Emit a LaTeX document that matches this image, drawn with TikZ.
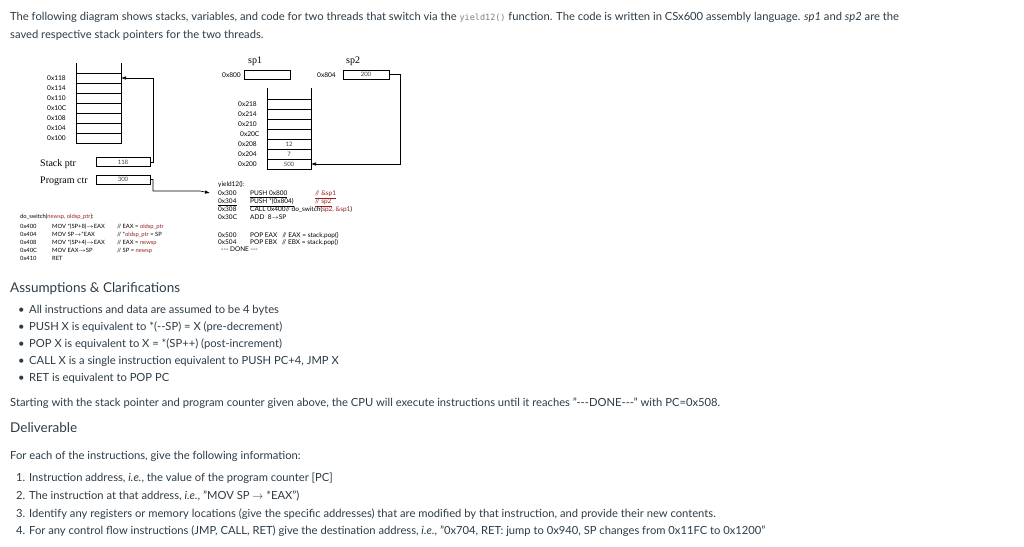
\documentclass[tikz,border=0pt]{standalone}
\usepackage{fontspec}
\setmainfont{Lato}
\newfontfamily\serifx{Liberation Serif}
\newfontfamily\monox{DejaVu Sans Mono}
\usetikzlibrary{arrows.meta}
\definecolor{txt}{RGB}{45,59,69}
\definecolor{dred}{RGB}{150,30,30}
\begin{document}
\begin{tikzpicture}[x=1pt,y=-1pt,
  tx/.style={anchor=base west,inner sep=0pt,text=txt,font=\fontsize{11.2}{13}\selectfont},
  sm/.style={anchor=base west,inner sep=0pt,font=\fontsize{5.8}{7}\selectfont},
  ym/.style={anchor=base west,inner sep=0pt,font=\fontsize{6.5}{7}\selectfont},
  lab/.style={anchor=base west,inner sep=0pt,font=\fontsize{6.6}{8}\selectfont},
  big/.style={anchor=base west,inner sep=0pt,font=\serifx\fontsize{10}{12}\selectfont},
  val/.style={draw,minimum width=54pt,minimum height=9pt,inner sep=0pt,font=\fontsize{6}{7}\selectfont\color{darkgray}},
  ln/.style={line width=0.6pt},
  arr/.style={ln,-{Latex[length=5pt,width=3.5pt]}}]
\useasboundingbox (0,0) rectangle (1024,546);
\node[tx] (p1) at (10,20) {The following diagram shows stacks, variables, and code for two threads that switch via the {\monox\color{gray}\fontsize{8.5}{10}\selectfont yield12()} function. The code is written in CSx600 assembly language. \textit{sp1} and \textit{sp2} are the};
\node[tx] (p2) at (10,38) {saved respective stack pointers for the two threads.};
% left stack
\draw[ln] (76,63) -- (76,143) -- (121,143) -- (121,63);
\foreach \i/\l in {0/0x118,1/0x114,2/0x110,3/0x10C,4/0x108,5/0x104,6/0x100}{
  \draw[ln] (76,{73+10*\i}) -- (121,{73+10*\i});
  \node[lab] at (47,{80.5+10*\i}) {\l};}
\coordinate (lt) at (121,78);
\node[big] (sptxt) at (40,166) {Stack ptr};
\node[big] (pctxt) at (40,183) {Program ctr};
\node[val] (sp) at (123,162) {118};
\node[val] (pc) at (123,179.5) {300};
\draw[arr] (sp.east) -| (153,78) -- (lt);
\coordinate (yy) at (210,193);
\draw[arr] (pc.east) -- (153,179.5) |- (200,191) -- (yy);
% sp1 sp2
\node[big] at (248,63) {sp1};
\node[big] at (346,63) {sp2};
\node[lab] at (222,77.5) {0x800};
\node[lab] at (317,77.5) {0x804};
\node[val,minimum width=46pt] (s1) at (267,74.5) {};
\node[val,minimum width=46pt] (s2) at (366,74.5) {200};
% middle stack
\draw[ln] (267,88) -- (267,169) -- (311,169) -- (311,88);
\foreach \i/\l/\v in {0/0x218/,1/0x214/,2/0x210/,3/0x20C/,4/0x208/12,5/0x204/7,6/0x200/500}{
  \draw[ln] (267,{99+10*\i}) -- (311,{99+10*\i});
  \node[lab] at ({\i==3 ? 240 : 238},{106.5+10*\i}) {\l};
  \node[font=\fontsize{6}{7}\selectfont\color{darkgray},inner sep=0pt] at (289,{104+10*\i}) {\v};}
\coordinate (mt) at (311,164);
\draw[arr] (s2.east) -- (400,74.5) |- (mt);
% yield code
\node[ym] (y0) at (218,186) {yield12():};
\node[ym] at (218,195.5) {0x300}; \node[ym] at (250,195.5) {\underline{PUSH 0x800}}; \node[ym] at (315,195.5) {\color{dred}\underline{// \&sp1}};
\node[ym] at (218,203.5) {\underline{0x304}}; \node[ym] at (250,203.5) {\underline{PUSH *(0x804)}}; \node[ym] at (315,203.5) {\color{dred}\underline{// sp2}};
\node[ym] at (218,211.5) {0x308}; \node[ym] at (250,211.5) {CALL 0x400// do\_switch({\color{dred}sp2, \&sp1})};
\node[ym] at (218,219.5) {0x30C}; \node[ym] at (250,219.5) {ADD \ 8$\to$SP};
\node[ym] at (218,237.5) {0x500}; \node[ym] at (250,237.5) {POP EAX \ \ // EAX = stack.pop()};
\node[ym] at (218,244.5) {0x504}; \node[ym] at (250,244.5) {POP EBX \ \ // EBX = stack.pop()};
\node[ym] at (221,251.5) {-{}-{}- DONE -{}-{}-};
% do_switch
\node[sm] at (20,218) {do\_switch({\color{dred}newsp, oldsp\_ptr}):};
\node[sm] at (20,228) {0x400}; \node[sm] at (52,228) {MOV *(SP+8)$\to$EAX}; \node[sm] at (117,228) {// EAX = {\color{dred}oldsp\_ptr}};
\node[sm] at (20,236) {0x404}; \node[sm] at (52,236) {MOV SP$\to$*EAX}; \node[sm] at (117,236) {// *{\color{dred}oldsp\_ptr} = SP};
\node[sm] at (20,244) {0x408}; \node[sm] at (52,244) {MOV *(SP+4)$\to$EAX}; \node[sm] at (117,244) {// EAX = {\color{dred}newsp}};
\node[sm] at (20,252) {0x40C}; \node[sm] at (52,252) {MOV EAX$\to$SP}; \node[sm] at (117,252) {// SP = {\color{dred}newsp}};
\node[sm] at (20,260) {0x410}; \node[sm] at (52,260) {RET};
% bottom text
\node[tx,font=\fontsize{13.5}{15}\selectfont] at (10,292) {Assumptions \& Clarifications};
\foreach \y/\t in {313/All instructions and data are assumed to be 4 bytes,
  330/{PUSH X is equivalent to *(-{}-SP) = X (pre-decrement)},
  347/{POP X is equivalent to X = *(SP++) (post-increment)},
  364/{CALL X is a single instruction equivalent to PUSH PC+4, JMP X},
  381/{RET is equivalent to POP PC}}{
  \node[tx] at (18,\y) {\textbullet}; \node[tx] at (29,\y) {\t};}
\node[tx] at (10,406) {Starting with the stack pointer and program counter given above, the CPU will execute instructions until it reaches "-{}-{}-DONE-{}-{}-" with PC=0x508.};
\node[tx,font=\fontsize{13.5}{15}\selectfont] at (10,432) {Deliverable};
\node[tx] at (10,459) {For each of the instructions, give the following information:};
\node[tx] at (16,481) {1. Instruction address, \textit{i.e.}, the value of the program counter [PC]};
\node[tx] at (16,499) {2. The instruction at that address, \textit{i.e.}, "MOV SP $\to$ *EAX")};
\node[tx] at (16,517) {3. Identify any registers or memory locations (give the specific addresses) that are modified by that instruction, and provide their new contents.};
\node[tx] at (16,534) {4. For any control flow instructions (JMP, CALL, RET) give the destination address, \textit{i.e.}, "0x704, RET: jump to 0x940, SP changes from 0x11FC to 0x1200"};
\end{tikzpicture}
\end{document}
